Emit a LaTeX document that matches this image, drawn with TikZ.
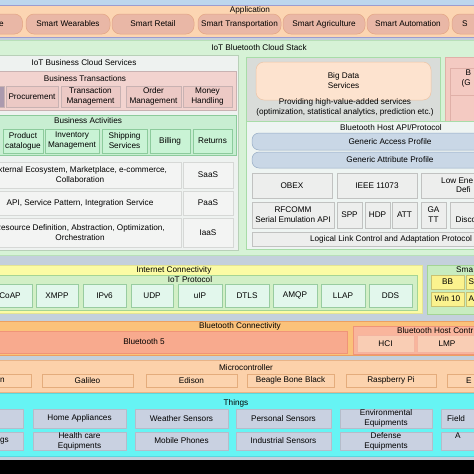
\documentclass[tikz,border=0pt]{standalone}
\usepackage{fontspec}
\setmainfont{Liberation Sans}
\usetikzlibrary{positioning}

\definecolor{bgcol}{HTML}{C4D0DC}
\definecolor{topcol}{HTML}{BCD6EE}
\definecolor{appfill}{HTML}{FCD5B2}
\definecolor{appline}{HTML}{9C9CD0}
\definecolor{pillfill}{HTML}{E9B7A6}
\definecolor{pillline}{HTML}{E3A584}
\definecolor{stackfill}{HTML}{D6F2D6}
\definecolor{stackline}{HTML}{B8E0B8}
\definecolor{bizfill}{HTML}{EEF2F0}
\definecolor{bizline}{HTML}{B8D0B8}
\definecolor{trfill}{HTML}{F2D3CF}
\definecolor{trline}{HTML}{C8B2B2}
\definecolor{trcell}{HTML}{ECC9C5}
\definecolor{actfill}{HTML}{C8EED2}
\definecolor{actline}{HTML}{8CCB9C}
\definecolor{actcell}{HTML}{C9F3D5}
\definecolor{svcfill}{HTML}{F3F4F3}
\definecolor{svcline}{HTML}{D6D8D6}
\definecolor{bigfill}{HTML}{D9DCD9}
\definecolor{bigline}{HTML}{A8DCA8}
\definecolor{bigsvc}{HTML}{FDE3CF}
\definecolor{bigsvcline}{HTML}{ECC4A6}
\definecolor{gatefill}{HTML}{F4CAC2}
\definecolor{gateline}{HTML}{E0B0A8}
\definecolor{hostfill}{HTML}{EEF4F2}
\definecolor{proffill}{HTML}{C9D7E6}
\definecolor{profline}{HTML}{95ABC4}
\definecolor{inetfill}{HTML}{FBFBA4}
\definecolor{inetline}{HTML}{E4E494}
\definecolor{protfill}{HTML}{D2EFC6}
\definecolor{protline}{HTML}{A4D494}
\definecolor{protcell}{HTML}{E2F7EC}
\definecolor{protcellline}{HTML}{98CCA0}
\definecolor{osfill}{HTML}{C8ECC0}
\definecolor{oscell}{HTML}{FBF28E}
\definecolor{btfill}{HTML}{FBC27A}
\definecolor{btline}{HTML}{ECA060}
\definecolor{btfivefill}{HTML}{F8AA8E}
\definecolor{btfiveline}{HTML}{F09478}
\definecolor{hcfill}{HTML}{F9B59C}
\definecolor{hccell}{HTML}{F9CDB4}
\definecolor{mcfill}{HTML}{FCD1AA}
\definecolor{mcline}{HTML}{E8B488}
\definecolor{mccell}{HTML}{FCD3AE}
\definecolor{mccellline}{HTML}{E4AC7C}
\definecolor{thfill}{HTML}{66F4F4}
\definecolor{thline}{HTML}{58D8E0}
\definecolor{thcell}{HTML}{C9D1E1}

\begin{document}
\begin{tikzpicture}[
		x=1pt, y=-1pt,
		font=\fontsize{8.2}{10}\selectfont,
		% Styles
		band/.style={rectangle, inner sep=0pt, line width=0.6pt},
		cell/.style={rectangle, inner sep=0pt, align=center, line width=0.5pt},
		pill/.style={cell, rounded corners=8pt, draw=pillline, fill=pillfill},
		prof/.style={cell, rounded corners=7pt, draw=profline, fill=proffill},
		trbox/.style={cell, draw=trline, fill=trcell},
		actbox/.style={cell, draw=actline, fill=actcell},
		svcbox/.style={cell, draw=svcline, fill=svcfill},
		btbox/.style={cell, draw=svcline!90!black, fill=svcfill!95!gray},
		protbox/.style={cell, draw=protcellline, fill=protcell},
		osbox/.style={cell, fill=oscell, draw=oscell!80!black},
		mcbox/.style={cell, draw=mccellline, fill=mccell},
		thbox/.style={cell, draw=thcell!90!black, fill=thcell},
		title/.style={inner sep=0pt, align=center}
		]
		\useasboundingbox (0,0) rectangle (474,474);
		\clip (0,0) rectangle (474,474);
		\fill[bgcol] (0,0) rectangle (474,474);
		\fill[topcol] (0,0) rectangle (474,5);
		
		% =========================================================
		% 1. APPLICATION
		% =========================================================
		\node[band, draw=appline, fill=appfill, minimum width=490, minimum height=32] (App) at (237,21) {};
		\node[title] (AppT) at (250,10.5) {Application};
		\node[pill, minimum width=83, minimum height=20] (P0) at (-19,24) {};
		\node[title, anchor=east] at (4,24) {e};
		\node[pill, minimum width=84, minimum height=20] (P1) at (68,24) {Smart Wearables};
		\node[pill, minimum width=82, minimum height=20] (P2) at (153,24) {Smart Retail};
		\node[pill, minimum width=83, minimum height=20] (P3) at (239.5,24) {Smart Transportation};
		\node[pill, minimum width=82, minimum height=20] (P4) at (324,24) {Smart Agriculture};
		\node[pill, minimum width=82, minimum height=20] (P5) at (408,24) {Smart Automation};
		\node[pill, minimum width=88, minimum height=20] (P6) at (496,24) {};
		\node[title, anchor=west] at (462,24) {S};
		
		% =========================================================
		% 2. IOT BLUETOOTH CLOUD STACK
		% =========================================================
		\node[band, draw=stackline, fill=stackfill, minimum width=490, minimum height=215] (Stack) at (237,147.5) {};
		\node[title] (StackT) at (259,48) {IoT Bluetooth Cloud Stack};
		
		% Business cloud services (left)
		\node[band, draw=bizline, fill=bizfill, minimum width=243, minimum height=195] (Biz) at (116.5,152.5) {};
		\node[title] (BizT) at (84,63) {IoT Business Cloud Services};
		
		\node[band, draw=trline, fill=trfill, minimum width=241, minimum height=39] (Trans) at (115.5,90.5) {};
		\node[title] (TransT) at (85,79) {Business Transactions};
		\node[trbox, fill=trcell!85!blue!60!gray, minimum width=44, minimum height=21] (T0) at (-18,96.5) {};
		\node[trbox, minimum width=52, minimum height=21] (T1) at (32,96.5) {Procurement};
		\node[trbox, minimum width=59, minimum height=21] (T2) at (90.5,96.5) {Transaction\\Management};
		\node[trbox, minimum width=55, minimum height=21] (T3) at (153.5,96.5) {Order\\Management};
		\node[trbox, minimum width=49, minimum height=21] (T4) at (207.5,96.5) {Money\\Handling};
		
		\node[band, draw=actline, fill=actfill, minimum width=241, minimum height=40] (Act) at (115.5,135) {};
		\node[title] (ActT) at (88,121) {Business Activities};
		\node[actbox, minimum width=40, minimum height=24] (A1) at (23,141) {Product\\catalogue};
		\node[actbox, minimum width=54, minimum height=24] (A2) at (72,141) {Inventory\\Management};
		\node[actbox, minimum width=45, minimum height=24] (A3) at (124.5,141) {Shipping\\Services};
		\node[actbox, minimum width=40, minimum height=24] (A4) at (170,141) {Billing};
		\node[actbox, minimum width=39, minimum height=24] (A5) at (212.5,141) {Returns};
		
		\node[svcbox, minimum width=202, minimum height=26] (S1) at (80,175) {External Ecosystem, Marketplace, e-commerce,\\Collaboration};
		\node[svcbox, minimum width=50, minimum height=26] (SaaS) at (208,175) {SaaS};
		\node[svcbox, minimum width=202, minimum height=24] (S2) at (80,203) {API, Service Pattern, Integration Service};
		\node[svcbox, minimum width=50, minimum height=24] (PaaS) at (208,203) {PaaS};
		\node[svcbox, minimum width=202, minimum height=29] (S3) at (80,232.5) {Resource Definition, Abstraction, Optimization,\\Orchestration};
		\node[svcbox, minimum width=50, minimum height=29] (IaaS) at (208,232.5) {IaaS};
		
		% Big data (right top)
		\node[band, draw=bigline, line width=1pt, fill=bigfill, minimum width=194, minimum height=68] (Big) at (343,91) {};
		\node[cell, rounded corners=8pt, draw=bigsvcline, fill=bigsvc, minimum width=175, minimum height=38] (BigSvc) at (343.5,81) {Big Data\\Services};
		\node[title] (BigT) at (345,107) {Providing high-value-added services\\(optimization, statistical analytics, prediction etc.)};
		
		\node[band, draw=gateline, fill=gatefill, minimum width=55, minimum height=68] (Gate) at (472.5,91) {};
		\draw[gateline] (450,122) -- (450,68) -- (480,68) (450,95) -- (480,95);
		\node[title, anchor=west] at (465.5,73) {B};
		\node[title, anchor=west] at (461.5,83) {(G};
		
		% Bluetooth host API/protocol
		\node[band, draw=bigline, line width=1pt, fill=hostfill, minimum width=254, minimum height=128] (Host) at (373,185) {};
		\node[title] (HostT) at (391,127.5) {Bluetooth Host API/Protocol};
		\node[prof, minimum width=268, minimum height=17] (GAP) at (386,141.5) {};
		\node[title] at (390,141.5) {Generic Access Profile};
		\node[prof, minimum width=268, minimum height=16] (GATTP) at (386,160) {};
		\node[title] at (390,160) {Generic Attribute Profile};
		\node[btbox, minimum width=80, minimum height=25] (OBEX) at (292,185.5) {OBEX};
		\node[btbox, minimum width=80, minimum height=25] (IEEE) at (377,185.5) {IEEE 11073};
		\node[btbox, minimum width=99, minimum height=25] (LE) at (470.5,185.5) {};
		\node[title, anchor=west] at (441,181) {Low Ene};
		\node[title, anchor=west] at (456,190) {Defi};
		\node[btbox, minimum width=82, minimum height=26] (RFCOMM) at (293,215) {RFCOMM\\Serial Emulation API};
		\node[btbox, minimum width=25, minimum height=26] (SPP) at (349.5,215) {SPP};
		\node[btbox, minimum width=25, minimum height=26] (HDP) at (377.5,215) {HDP};
		\node[btbox, minimum width=25, minimum height=26] (ATT) at (404.5,215) {ATT};
		\node[btbox, minimum width=25, minimum height=26] (GATT) at (433.5,215) {GA\\TT};
		\node[btbox, minimum width=70, minimum height=26] (Disc) at (485,215) {};
		\node[title, anchor=west] at (455.5,220) {Disco};
		\node[btbox, minimum width=268, minimum height=14] (L2CAP) at (386,239) {};
		\node[title] at (391,239) {Logical Link Control and Adaptation Protocol};
		
		% =========================================================
		% 3. INTERNET CONNECTIVITY
		% =========================================================
		\node[band, draw=inetline, fill=inetfill, minimum width=427, minimum height=48] (Inet) at (208.5,289) {};
		\node[title] (InetT) at (174,270) {Internet Connectivity};
		\node[band, draw=protline, fill=protfill, minimum width=422, minimum height=35] (Prot) at (206,292.5) {};
		\node[title] (ProtT) at (190,280) {IoT Protocol};
		\node[protbox, minimum width=44, minimum height=23] (CoAP) at (10,295.5) {CoAP};
		\node[protbox, minimum width=42, minimum height=23] (XMPP) at (57,295.5) {XMPP};
		\node[protbox, minimum width=43, minimum height=23] (IPv6) at (104.5,295.5) {IPv6};
		\node[protbox, minimum width=42, minimum height=23] (UDP) at (152,295.5) {UDP};
		\node[protbox, minimum width=44, minimum height=23] (uIP) at (200,295.5) {uIP};
		\node[protbox, minimum width=44, minimum height=23] (DTLS) at (247,295.5) {DTLS};
		\node[protbox, minimum width=44, minimum height=23] (AMQP) at (295,295.5) {AMQP};
		\node[protbox, minimum width=44, minimum height=23] (LLAP) at (343,295.5) {LLAP};
		\node[protbox, minimum width=43, minimum height=23] (DDS) at (390.5,295.5) {DDS};
		
		\node[band, draw=protline, fill=osfill, minimum width=73, minimum height=49] (OS) at (463.5,289.5) {};
		\node[title, anchor=west] at (456,270) {Sma};
		\node[osbox, minimum width=33, minimum height=14] (BB) at (447.5,282) {BB};
		\node[osbox, minimum width=54, minimum height=14] (OS2) at (493,282) {};
		\node[title, anchor=west] at (468.5,282) {S};
		\node[osbox, minimum width=33, minimum height=14] (Win) at (447.5,299) {Win 10};
		\node[osbox, minimum width=54, minimum height=14] (OS4) at (493,299) {};
		\node[title, anchor=west] at (468.5,299) {A};
		
		% =========================================================
		% 4. BLUETOOTH CONNECTIVITY
		% =========================================================
		\node[band, draw=btline, fill=btfill, minimum width=505, minimum height=34] (BT) at (247.5,338) {};
		\node[title] (BTT) at (240,326) {Bluetooth Connectivity};
		\node[cell, draw=btfiveline, fill=btfivefill, minimum width=352, minimum height=22] (BT5) at (171,342) {};
		\node[title] at (144,342) {Bluetooth 5};
		\node[band, draw=btfiveline, fill=hcfill, minimum width=147, minimum height=28] (HC) at (426.5,340) {};
		\node[title, anchor=west] at (397,330.5) {Bluetooth Host Contr};
		\node[cell, draw=btfiveline!70, fill=hccell, minimum width=57, minimum height=17] (HCI) at (385.5,343.5) {HCI};
		\node[cell, draw=btfiveline!70, fill=hccell, minimum width=60, minimum height=17] (LMP) at (447,343.5) {LMP};
		
		% =========================================================
		% 5. MICROCONTROLLER
		% =========================================================
		\node[band, draw=mcline, fill=mcfill, minimum width=505, minimum height=32] (MC) at (247.5,376) {};
		\node[title] (MCT) at (246,368) {Microcontroller};
		\node[mcbox, minimum width=91, minimum height=13] (M0) at (-14.5,380.5) {};
		\node[title, anchor=east] at (5,380.5) {n};
		\node[mcbox, minimum width=91, minimum height=13] (M1) at (87.5,380.5) {Galileo};
		\node[mcbox, minimum width=91, minimum height=13] (M2) at (191.5,380.5) {Edison};
		\node[mcbox, minimum width=87, minimum height=13] (M3) at (290.5,380.5) {Beagle Bone Black};
		\node[mcbox, minimum width=90, minimum height=13] (M4) at (391,380.5) {Raspberry Pi};
		\node[mcbox, minimum width=93, minimum height=13] (M5) at (493.5,380.5) {};
		\node[title, anchor=west] at (466,380.5) {E};
		
		% =========================================================
		% 6. THINGS
		% =========================================================
		\node[band, draw=thline, fill=thfill, minimum width=505, minimum height=63] (Things) at (247.5,424.5) {};
		\node[title] (ThingsT) at (236,403) {Things};
		\node[thbox, minimum width=83, minimum height=19] (H0) at (-18.5,418.5) {};
		\node[thbox, minimum width=93, minimum height=19] (H1) at (79.5,418.5) {Home Appliances};
		\node[thbox, minimum width=93, minimum height=19] (H2) at (181.5,418.5) {Weather Sensors};
		\node[thbox, minimum width=95, minimum height=19] (H3) at (283.5,418.5) {Personal Sensors};
		\node[thbox, minimum width=92, minimum height=19] (H4) at (386,418.5) {Environmental\\Equipments};
		\node[thbox, minimum width=99, minimum height=19] (H5) at (490.5,418.5) {};
		\node[title, anchor=west] at (447,418.5) {Field};
		\node[thbox, minimum width=83, minimum height=18] (K0) at (-18.5,441) {};
		\node[title, anchor=east] at (9,441) {gs};
		\node[thbox, minimum width=93, minimum height=18] (K1) at (79.5,441) {Health care\\Equipments};
		\node[thbox, minimum width=93, minimum height=18] (K2) at (181.5,441) {Mobile Phones};
		\node[thbox, minimum width=95, minimum height=18] (K3) at (283.5,441) {Industrial Sensors};
		\node[thbox, minimum width=92, minimum height=18] (K4) at (386,441) {Defense\\Equipments};
		\node[thbox, minimum width=99, minimum height=18] (K5) at (490.5,441) {};
		\node[title, anchor=west] at (455,436) {A};
		
		\fill[black] (0,460) rectangle (474,474);
	\end{tikzpicture}
\end{document}
